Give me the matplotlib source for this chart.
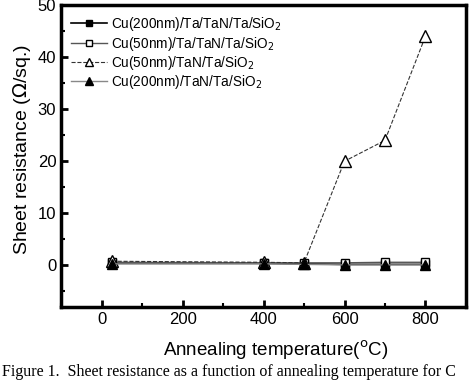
import matplotlib.pyplot as plt
from matplotlib.ticker import MultipleLocator

plt.rcParams['font.family'] = ['Liberation Sans', 'DejaVu Sans']

temps = [25, 400, 500, 600, 700, 800]
cu200_ta = [0.4, 0.4, 0.3, 0.2, 0.2, 0.2]
cu50_ta = [0.6, 0.5, 0.5, 0.5, 0.6, 0.6]
cu50_tan = [0.8, 0.6, 0.5, 20.0, 24.0, 44.0]
cu200_tan = [0.3, 0.3, 0.2, 0.1, 0.1, 0.1]

labels = ['Cu(200nm)/Ta/TaN/Ta/SiO$_2$',
          'Cu(50nm)/Ta/TaN/Ta/SiO$_2$',
          'Cu(50nm)/TaN/Ta/SiO$_2$',
          'Cu(200nm)/TaN/Ta/SiO$_2$']

fig = plt.figure(figsize=(4.74, 3.81), dpi=100)
ax = fig.add_axes([0.129, 0.194, 0.854, 0.793])

ax.plot(temps, cu200_ta, '-', color='black', lw=1.2, marker='s', ms=6,
        mfc='black', mec='black', label=labels[0])
ax.plot(temps, cu50_ta, '-', color='#555555', lw=1.0, marker='s', ms=6,
        mfc='white', mec='black', label=labels[1])
ax.plot(temps, cu50_tan, '--', color='#333333', lw=0.8, marker='^', ms=8,
        mfc='white', mec='black', label=labels[2])
ax.plot(temps, cu200_tan, '-', color='#888888', lw=1.0, marker='^', ms=7,
        mfc='black', mec='black', label=labels[3])

ax.set_xlim(-100, 900)
ax.set_ylim(-8, 50)
ax.xaxis.set_major_locator(MultipleLocator(200))
ax.xaxis.set_minor_locator(MultipleLocator(100))
ax.yaxis.set_major_locator(MultipleLocator(10))
ax.yaxis.set_minor_locator(MultipleLocator(5))
ax.tick_params(which='both', direction='in', labelsize=12)
ax.tick_params(which='major', length=5, width=2)
ax.tick_params(which='minor', length=3, width=1.5)
for s in ax.spines.values():
    s.set_linewidth(2.5)

ax.set_xlabel('Annealing temperature($^{\\rm o}$C)', fontsize=13.5)
ax.set_ylabel('Sheet resistance ($\\Omega$/sq.)', fontsize=14)
ax.xaxis.set_label_coords(0.53, -0.105)
ax.yaxis.set_label_coords(-0.07, 0.52)

ax.legend(loc='upper left', frameon=False, fontsize=9.8, handlelength=2.6,
          borderaxespad=0.35, labelspacing=0.1, handletextpad=0.3,
          markerscale=0.8)

fig.text(0.005, 0.002, 'Figure 1.  Sheet resistance as a function of annealing temperature for C',
         fontsize=11.5, family='Liberation Serif', va='bottom')

fig.savefig('out.png', dpi=100)
